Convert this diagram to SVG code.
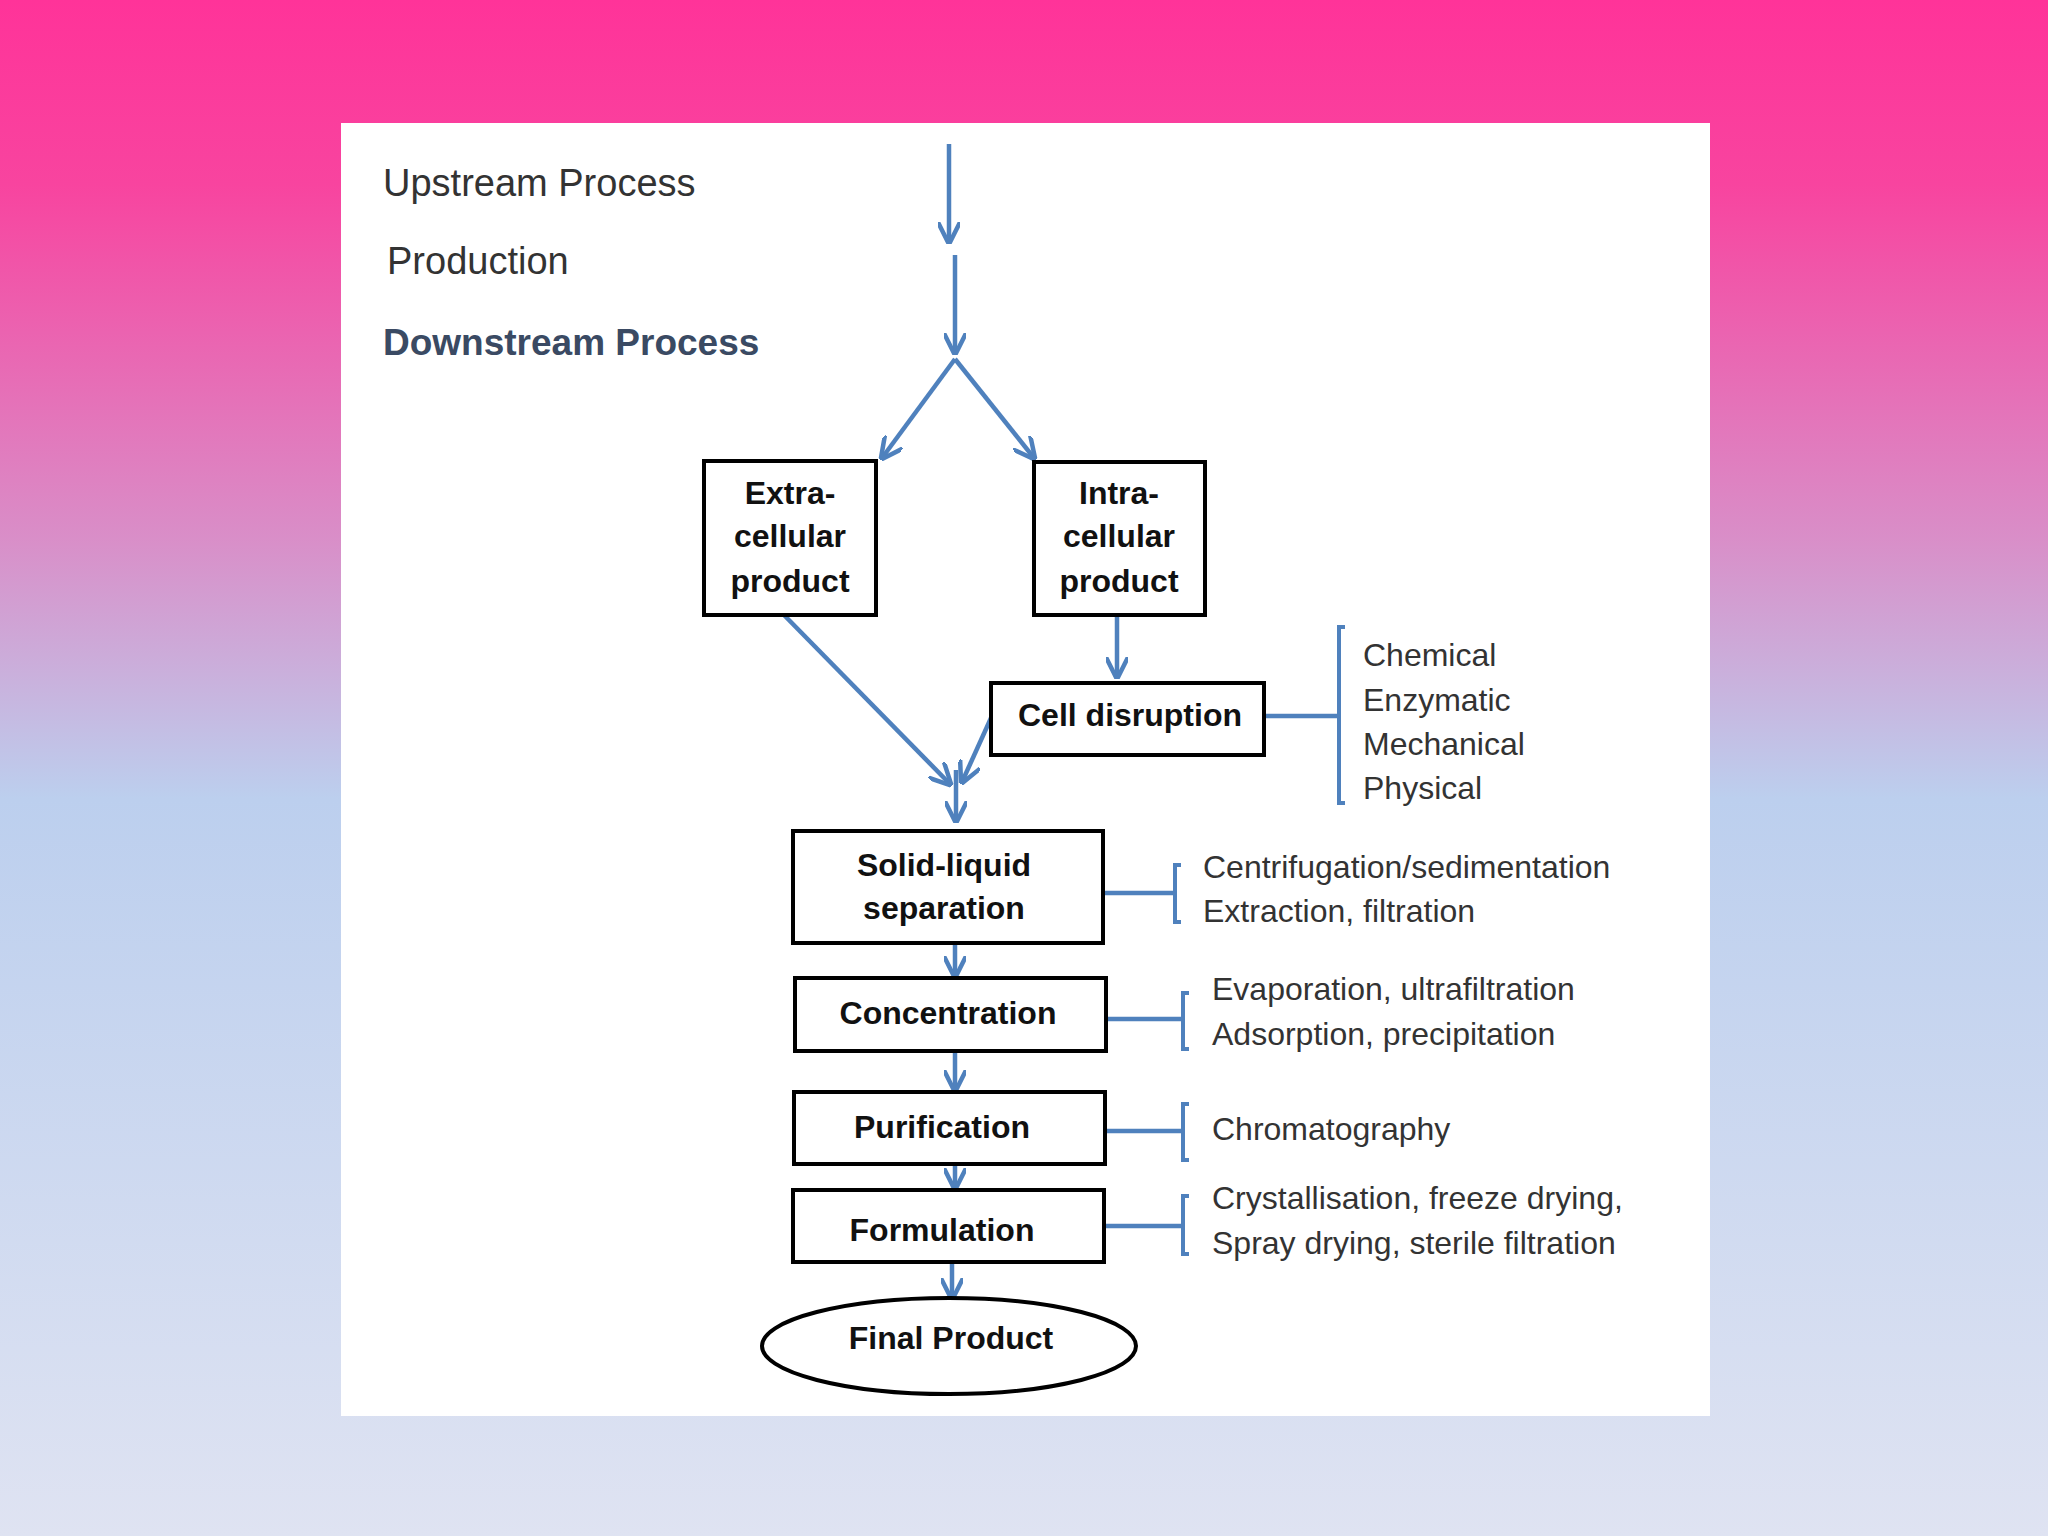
<svg xmlns="http://www.w3.org/2000/svg" width="2048" height="1536" viewBox="0 0 2048 1536">
<defs>
<linearGradient id="bg" x1="0" y1="0" x2="0" y2="1">
<stop offset="0" stop-color="#ff3399"/><stop offset="0.12" stop-color="#f8449f"/><stop offset="0.35" stop-color="#d98ec8"/><stop offset="0.52" stop-color="#bccfee"/><stop offset="1" stop-color="#dfe3f2"/>
</linearGradient>
<marker id="ah" viewBox="0 0 10 10" refX="9" refY="5" markerWidth="5" markerHeight="5" orient="auto" markerUnits="strokeWidth"><path d="M0,0 L10,5 L0,10" fill="none" stroke="#4f81bd" stroke-width="2"/></marker>
<style>
.box{fill:#fff;stroke:#000;stroke-width:4}
.bt{font-family:"Liberation Sans",Arial,sans-serif;font-weight:bold;font-size:32px;fill:#111;text-anchor:middle}
.lt{font-family:"Liberation Sans",Arial,sans-serif;font-size:32px;fill:#333}
.c{stroke:#4f81bd;stroke-width:4.5;fill:none}
.a{stroke:#4f81bd;stroke-width:4.5;fill:none;marker-end:url(#ah)}
.br{stroke:#4f81bd;stroke-width:4;fill:none}
</style>
</defs>
<rect width="2048" height="1536" fill="url(#bg)"/>
<rect x="341" y="123" width="1369" height="1293" fill="#fff"/>
<g id="labels">
<text x="383" y="196" class="lt" font-size="38" style="font-size:38px">Upstream Process</text>
<text x="387" y="274" class="lt" style="font-size:38px">Production</text>
<text x="383" y="355" style="font-family:'Liberation Sans',Arial,sans-serif;font-weight:bold;font-size:37px;fill:#3a4a63">Downstream Process</text>
</g>
<g id="connectors">
<line x1="949" y1="144" x2="949" y2="242" class="a"/>
<line x1="955" y1="255" x2="955" y2="353" class="a"/>
<line x1="955" y1="359" x2="882" y2="458" class="a"/>
<line x1="955" y1="359" x2="1034" y2="458" class="a"/>
<line x1="1117" y1="615" x2="1117" y2="677" class="a"/>
<polyline points="784,615 950,784" class="a"/>
<polyline points="991,718 962,782" class="a"/>
<line x1="956" y1="770" x2="956" y2="821" class="a"/>
<line x1="955" y1="943" x2="955" y2="976" class="a"/>
<line x1="955" y1="1051" x2="955" y2="1090" class="a"/>
<line x1="955" y1="1164" x2="955" y2="1188" class="a"/>
<line x1="952" y1="1262" x2="952" y2="1298" class="a"/>
<line x1="1264" y1="716" x2="1339" y2="716" class="c"/>
<path d="M1345,627 H1339 V803 H1345" class="br"/>
<line x1="1103" y1="893" x2="1175" y2="893" class="c"/>
<path d="M1181,865 H1175 V922 H1181" class="br"/>
<line x1="1106" y1="1019" x2="1183" y2="1019" class="c"/>
<path d="M1189,993 H1183 V1049 H1189" class="br"/>
<line x1="1105" y1="1131" x2="1183" y2="1131" class="c"/>
<path d="M1189,1104 H1183 V1160 H1189" class="br"/>
<line x1="1104" y1="1226" x2="1183" y2="1226" class="c"/>
<path d="M1189,1196 H1183 V1254 H1189" class="br"/>
</g>
<g id="extra"><rect x="704" y="461" width="172" height="154" class="box"/><text class="bt" x="790" y="504">Extra-</text><text class="bt" x="790" y="547">cellular</text><text class="bt" x="790" y="592">product</text></g>
<g id="intra"><rect x="1034" y="462" width="171" height="153" class="box"/><text class="bt" x="1119" y="504">Intra-</text><text class="bt" x="1119" y="547">cellular</text><text class="bt" x="1119" y="592">product</text></g>
<g id="cell"><rect x="991" y="683" width="273" height="72" class="box"/><text class="bt" x="1130" y="726">Cell disruption</text></g>
<g id="cellnotes"><text class="lt" x="1363" y="666">Chemical</text><text class="lt" x="1363" y="711">Enzymatic</text><text class="lt" x="1363" y="755">Mechanical</text><text class="lt" x="1363" y="799">Physical</text></g>
<g id="solid"><rect x="793" y="831" width="310" height="112" class="box"/><text class="bt" x="944" y="876">Solid-liquid</text><text class="bt" x="944" y="919">separation</text></g>
<g id="solidnotes"><text class="lt" x="1203" y="878">Centrifugation/sedimentation</text><text class="lt" x="1203" y="922">Extraction, filtration</text></g>
<g id="conc"><rect x="795" y="978" width="311" height="73" class="box"/><text class="bt" x="948" y="1024">Concentration</text></g>
<g id="concnotes"><text class="lt" x="1212" y="1000">Evaporation, ultrafiltration</text><text class="lt" x="1212" y="1045">Adsorption, precipitation</text></g>
<g id="puri"><rect x="794" y="1092" width="311" height="72" class="box"/><text class="bt" x="942" y="1138">Purification</text></g>
<g id="purinotes"><text class="lt" x="1212" y="1140">Chromatography</text></g>
<g id="form"><rect x="793" y="1190" width="311" height="72" class="box"/><text class="bt" x="942" y="1241">Formulation</text></g>
<g id="formnotes"><text class="lt" x="1212" y="1209">Crystallisation, freeze drying,</text><text class="lt" x="1212" y="1254">Spray drying, sterile filtration</text></g>
<g id="final"><ellipse cx="949" cy="1346" rx="187" ry="48" class="box"/><text class="bt" x="951" y="1349">Final Product</text></g>
</svg>
